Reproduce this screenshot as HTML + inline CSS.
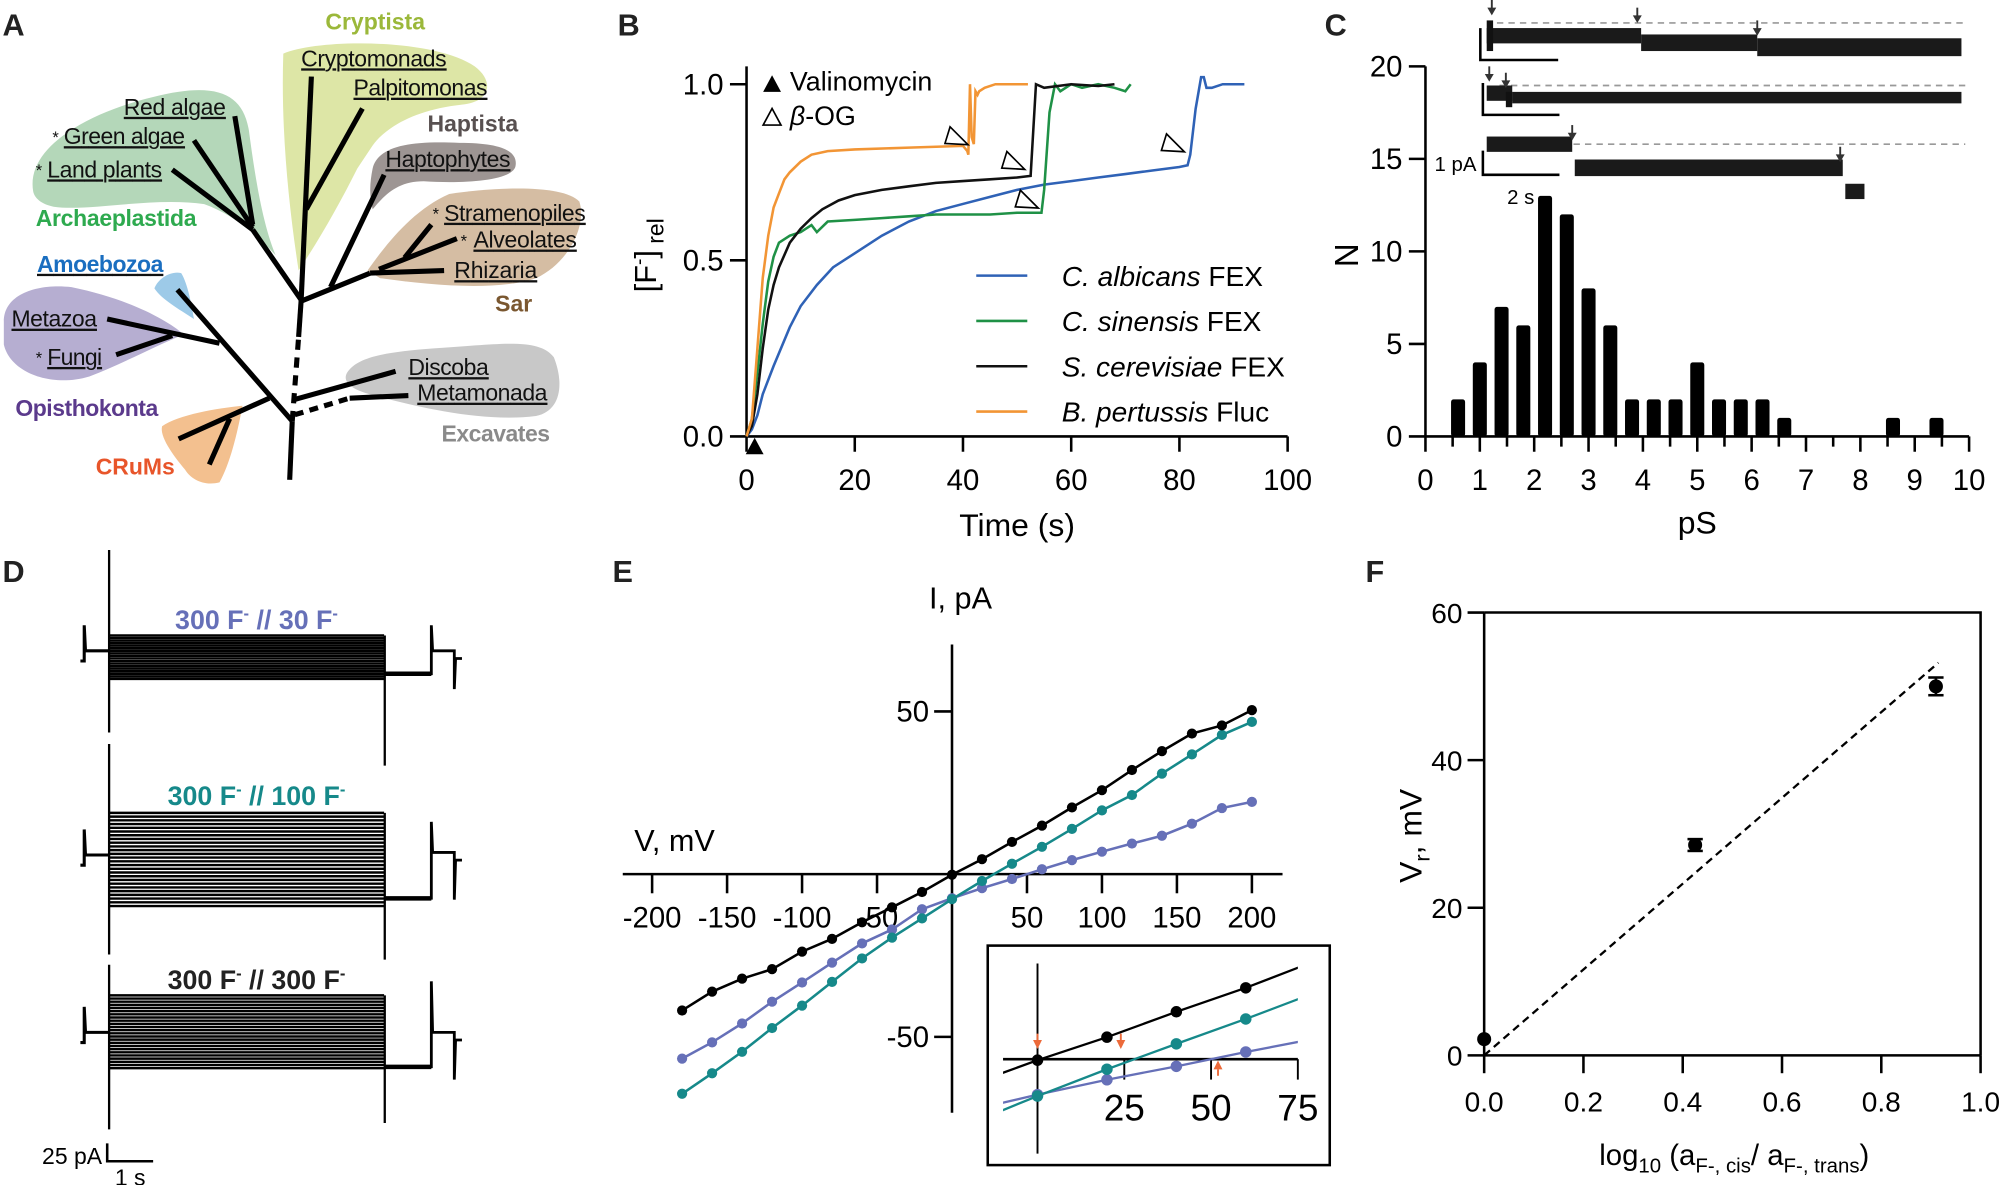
<!DOCTYPE html>
<html><head><meta charset="utf-8"><style>
html,body{margin:0;padding:0;background:#fff;}
svg{display:block;font-family:"Liberation Sans",Arial,sans-serif;}
</style></head><body>
<svg id="fig" width="2001" height="1185" viewBox="0 0 1568 928.6" preserveAspectRatio="none" xmlns="http://www.w3.org/2000/svg">
<defs>
<clipPath id="insetClip"><rect x="786" y="745" width="231" height="165"/></clipPath>
</defs>
<g font-weight="bold" font-size="24" fill="#222">
<text x="2" y="28">A</text>
<text x="484" y="28">B</text>
<text x="1038" y="28">C</text>
<text x="2" y="456">D</text>
<text x="480" y="456">E</text>
<text x="1070" y="456">F</text>
</g>

<g id="panelA">
<path fill="#dde6a6" d="M222,42 C250,30 340,30 372,52 C388,64 384,80 362,82 C325,86 302,100 292,114 L280,132 C266,160 250,188 234,212 C226,160 220,100 222,42 Z"/>
<path fill="#b4d7b9" d="M26,150 C20,115 70,88 120,76 C168,64 190,72 195,102 C200,140 206,176 216,200 C200,182 180,167 160,160 C120,154 70,166 42,162 C32,160 27,155 26,150 Z"/>
<path fill="#9d9593" d="M292,132 C296,115 320,110 360,112 C392,112 406,118 404,130 C402,142 362,144 332,142 C312,142 302,152 292,164 C289,152 290,142 292,132 Z"/>
<path fill="#d5bda3" d="M288,212 C300,195 322,165 352,152 C392,146 442,145 454,158 C460,176 446,206 420,218 C390,228 340,224 298,218 Z"/>
<path fill="#9dcae8" d="M121,226 C124,218 134,212 142,214 C147,222 150,238 152,250 C140,242 127,235 121,226 Z"/>
<path fill="#b6aed1" d="M3,252 C3,230 30,222 56,225 C100,234 130,250 144,262 C120,272 96,285 70,295 C40,304 8,292 3,270 Z"/>
<path fill="#f3c08f" d="M127,334 C140,325 170,320 190,318 C186,340 180,364 172,378 C160,381 150,376 145,368 C135,356 125,342 127,334 Z"/>
<path fill="#c8c8c8" d="M272,292 C280,280 300,276 340,273 C390,270 422,264 434,280 C442,300 440,322 420,326 C380,331 330,320 290,309 C275,305 268,299 272,292 Z"/>
<g stroke="#000" stroke-width="4" fill="none" stroke-linecap="butt">
<line x1="227" y1="376" x2="229" y2="330"/>
<line x1="229" y1="330" x2="139" y2="227"/>
<line x1="84" y1="250" x2="172" y2="269"/>
<line x1="91" y1="278" x2="135" y2="263"/>
<line x1="211" y1="312" x2="140" y2="344"/>
<line x1="180" y1="328" x2="164" y2="364"/>
<line x1="229" y1="330" x2="234" y2="264" stroke-dasharray="8,6"/>
<line x1="234" y1="264" x2="236" y2="235"/>
<line x1="231" y1="313" x2="310" y2="291"/>
<line x1="231" y1="325" x2="274" y2="312" stroke-dasharray="7,5"/>
<line x1="274" y1="312" x2="320" y2="310"/>
<line x1="236" y1="235" x2="198" y2="180"/>
<line x1="135" y1="133" x2="198" y2="180"/>
<line x1="152" y1="110" x2="198" y2="178"/>
<line x1="184" y1="91" x2="198" y2="176"/>
<line x1="236" y1="235" x2="244" y2="60"/>
<line x1="284" y1="85" x2="240" y2="164"/>
<line x1="236" y1="236" x2="290" y2="214"/>
<line x1="259" y1="225" x2="301" y2="137"/>
<line x1="290" y1="214" x2="348" y2="212"/>
<line x1="297" y1="211" x2="358" y2="187"/>
<line x1="317" y1="202" x2="338" y2="176"/>
</g>
<g font-size="18" fill="#111" text-decoration="underline">
<text x="236" y="52" textLength="114">Cryptomonads</text>
<text x="277" y="75" textLength="105">Palpitomonas</text>
<text x="97" y="90" textLength="80">Red algae</text>
<text x="50" y="113" textLength="95">Green algae</text>
<text x="37" y="139" textLength="90">Land plants</text>
<text x="302" y="131" textLength="98">Haptophytes</text>
<text x="348" y="173" textLength="111">Stramenopiles</text>
<text x="371" y="194" textLength="81">Alveolates</text>
<text x="356" y="218" textLength="65">Rhizaria</text>
<text x="9" y="256" textLength="67">Metazoa</text>
<text x="37" y="286" textLength="43">Fungi</text>
<text x="320" y="294" textLength="63">Discoba</text>
<text x="327" y="314" textLength="102">Metamonada</text>
<text x="29" y="213" textLength="99" font-weight="bold" fill="#1a6ec0">Amoebozoa</text>
</g>
<g font-size="13" fill="#111">
<text x="41" y="112">*</text><text x="28" y="138">*</text><text x="339" y="172">*</text><text x="361" y="193">*</text><text x="28" y="285">*</text>
</g>
<g font-size="18" font-weight="bold">
<text x="255" y="23" fill="#9bb83a">Cryptista</text>
<text x="28" y="177" fill="#2eaa4f" textLength="126">Archaeplastida</text>
<text x="335" y="103" fill="#585050">Haptista</text>
<text x="388" y="244" fill="#7a5730">Sar</text>
<text x="12" y="326" fill="#5b3a8c" textLength="112">Opisthokonta</text>
<text x="75" y="372" fill="#e8552a">CRuMs</text>
<text x="346" y="346" fill="#8a8a8a" textLength="85">Excavates</text>
</g>
</g>

<g id="panelB"></g>
<g id="panelC"></g>
<g id="panelD"></g>
<g id="panelE"></g>
<g id="panelF"></g>
</svg>
<script>
const albT=[0,1,2,3,5,8,10,13,16,20,25,30,35,40,45,50,55,60,65,70,75,80,81.5,82,83,84,84.5,85,86,88,92];
const albV=[0,0.02,0.06,0.12,0.2,0.31,0.37,0.43,0.48,0.52,0.57,0.61,0.64,0.66,0.68,0.70,0.715,0.725,0.735,0.745,0.755,0.765,0.77,0.80,0.93,1.02,1.02,0.99,0.99,1.0,1.0];
const sinT=[0,1,2,3,4,5,6,8,10,12,13,15,20,25,30,35,40,45,50,54.5,55,56,57,58,60,62,65,68,70,71];
const sinV=[0,0.05,0.18,0.32,0.44,0.51,0.55,0.57,0.58,0.60,0.58,0.61,0.615,0.62,0.625,0.63,0.63,0.63,0.635,0.635,0.70,0.92,1.0,0.98,1.0,0.99,1.0,0.99,0.98,1.0];
const cerT=[0,1,2,3,4,5,6,8,10,12,14,17,20,25,30,35,40,45,50,52.5,53,53.5,55,60,65,68];
const cerV=[0,0.03,0.12,0.25,0.36,0.43,0.48,0.55,0.59,0.62,0.645,0.67,0.685,0.70,0.71,0.72,0.725,0.73,0.735,0.74,0.87,1.0,0.99,1.0,0.995,1.0];
const pertT=[0,1,2,3,4,5,6,7,8,10,12,15,20,30,40,40.8,41,41.3,41.6,42,42.3,42.7,43,44,46,48,50,52];
const pertV=[0,0.05,0.25,0.45,0.57,0.65,0.69,0.73,0.75,0.78,0.80,0.81,0.815,0.82,0.825,0.81,0.80,1.0,0.85,0.83,0.98,0.97,0.98,0.99,1.0,1.0,1.0,1.0];
const bXTicks=[0,20,40,60,80,100];
const bYTicks=[0,0.5,1.0];
const bYTickLabels=["0.0","0.5","1.0"];
const bogT=[39.5,50,52.5,79.5];
const bogV=[0.85,0.78,0.67,0.83];

const cCenters=[0.6,1.0,1.4,1.8,2.2,2.6,3.0,3.4,3.8,4.2,4.6,5.0,5.4,5.8,6.2,6.6,8.6,9.4];
const cCounts=[2,4,7,6,13,12,8,6,2,2,2,4,2,2,2,1,1,1];
const cXTicks=[0,1,2,3,4,5,6,7,8,9,10];
const cYTicks=[0,5,10,15,20];

const eV=[-180,-160,-140,-120,-100,-80,-60,-40,-20,0,20,40,60,80,100,120,140,160,180,200];
const eBlack=[-41.9,-36.1,-32.1,-29.2,-23.8,-19.9,-14.8,-10.2,-5.5,-0.2,4.6,9.9,14.9,20.5,25.8,32.0,37.8,43.2,45.7,50.4];
const eTeal=[-67.5,-61.2,-54.6,-47.3,-40.4,-33.1,-25.9,-19.5,-13.6,-7.7,-2.1,3.2,8.4,13.9,19.6,24.3,30.9,36.8,42.8,46.8];
const ePurple=[-56.7,-51.7,-45.9,-39.2,-33.3,-27.2,-21.3,-17.0,-10.8,-7.4,-4.3,-1.5,1.5,4.3,6.9,9.4,11.8,15.5,20.3,22.2];
const eXTicks=[-200,-150,-100,-50,50,100,150,200];
const eYTicks=[50,-50];
const eInsetTicks=[25,50,75];
const eReversal=[0,24,52];

const fX=[0,0.425,0.91];
const fY=[2.2,28.5,50];
const fErr=[0,0.8,1.2];
const fFitX=[0,0.915];
const fFitY=[0,53.2];
const fXTicks=[0,0.2,0.4,0.6,0.8,1.0];
const fYTicks=[0,20,40,60];

const NS="http://www.w3.org/2000/svg";
function mk(parent,tag,attrs,text){const e=document.createElementNS(NS,tag);for(const k in attrs)e.setAttribute(k,attrs[k]);if(text!==undefined)e.textContent=text;parent.appendChild(e);return e;}

(function(){
const g=document.getElementById('panelB');
const xB=t=>585+t*4.24, yB=v=>342-v*276;
let ax=mk(g,'line',{x1:585,y1:52,x2:585,y2:342,stroke:'#000','stroke-width':2});

let ax2=mk(g,'line',{x1:585,y1:342,x2:1009,y2:342,stroke:'#000','stroke-width':2});

bXTicks.forEach(t=>{mk(g,'line',{x1:xB(t),y1:342,x2:xB(t),y2:354,stroke:'#000','stroke-width':2});
 const tl=mk(g,'text',{x:xB(t),y:384,'font-size':23,'text-anchor':'middle'},String(t));
 });
bYTicks.forEach((v,i)=>{mk(g,'line',{x1:572,y1:yB(v),x2:585,y2:yB(v),stroke:'#000','stroke-width':2});
 const tl=mk(g,'text',{x:567,y:yB(v)+8,'font-size':23,'text-anchor':'end'},bYTickLabels[i]);
 });
const xl=mk(g,'text',{x:797,y:420,'font-size':25,'text-anchor':'middle'},'Time (s)');

const yl=mk(g,'text',{x:0,y:0,'font-size':24,'text-anchor':'middle',transform:'translate(514,200) rotate(-90)'});

yl.innerHTML='[F<tspan dy="-8" font-size="15">-</tspan><tspan dy="8">]</tspan><tspan dy="6" font-size="18"> rel</tspan>';
const series=[[albT,albV,'#2f62b6','c-albicans'],[sinT,sinV,'#1f9146','c-sinensis'],[cerT,cerV,'#111','s-cerevisiae'],[pertT,pertV,'#f29535','b-pertussis']];
series.forEach(s=>{const pts=s[0].map((t,i)=>xB(t).toFixed(1)+','+yB(s[1][i]).toFixed(1)).join(' ');
 const pl=mk(g,'polyline',{points:pts,fill:'none',stroke:s[2],'stroke-width':2});
 });
bogT.forEach((t,i)=>{const x=xB(t),y=yB(bogV[i]);
 const tr=mk(g,'polygon',{points:`${x-8},${y-8} ${x+6},${y+6} ${x-12},${y+5}`,fill:'#fff',stroke:'#000','stroke-width':1.3});
 });
const vm=mk(g,'polygon',{points:`${xB(1.5)-7},356 ${xB(1.5)+7},356 ${xB(1.5)},343`,fill:'#000'});

mk(g,'polygon',{points:'598,72 612,72 605,59',fill:'#000'});
const t1=mk(g,'text',{x:619,y:71,'font-size':21},'Valinomycin');
mk(g,'polygon',{points:'598,98 612,98 605,85',fill:'#fff',stroke:'#000','stroke-width':1.3});
const t2=mk(g,'text',{x:619,y:98,'font-size':21});t2.innerHTML='<tspan font-style="italic">β</tspan>-OG';

const leg=[['#2f62b6','C. albicans',' FEX'],['#1f9146','C. sinensis',' FEX'],['#111','S. cerevisiae',' FEX'],['#f29535','B. pertussis',' Fluc']];
leg.forEach((l,i)=>{const y=216+i*35.5;
 mk(g,'line',{x1:765,y1:y,x2:805,y2:y,stroke:l[0],'stroke-width':2});
 const tx=mk(g,'text',{x:832,y:y+8,'font-size':22});
 tx.innerHTML='<tspan font-style="italic">'+l[1]+'</tspan>'+l[2];
 });
})();

(function(){
const g=document.getElementById('panelC');
const xC=v=>1117+v*42.6, yC=n=>342-n*14.5;
const a1=mk(g,'line',{x1:1117,y1:52,x2:1117,y2:342,stroke:'#000','stroke-width':2});

const a2=mk(g,'line',{x1:1117,y1:342,x2:1543,y2:342,stroke:'#000','stroke-width':2});

cYTicks.forEach(n=>{mk(g,'line',{x1:1104,y1:yC(n),x2:1117,y2:yC(n),stroke:'#000','stroke-width':2});
 const t=mk(g,'text',{x:1099,y:yC(n)+8,'font-size':23,'text-anchor':'end'},String(n));
 });
cXTicks.forEach(v=>{mk(g,'line',{x1:xC(v),y1:342,x2:xC(v),y2:354,stroke:'#000','stroke-width':2});
 if(v<10)mk(g,'line',{x1:xC(v+0.5),y1:342,x2:xC(v+0.5),y2:350,stroke:'#000','stroke-width':2});
 const t=mk(g,'text',{x:xC(v),y:384,'font-size':23,'text-anchor':'middle'},String(v));
 });
const xl=mk(g,'text',{x:1330,y:418,'font-size':25,'text-anchor':'middle'},'pS');

const yl=mk(g,'text',{x:0,y:0,'font-size':26,'text-anchor':'middle',transform:'translate(1064,200) rotate(-90)'},'N');

cCenters.forEach((c,i)=>{const w=11;const b=mk(g,'rect',{x:xC(c)-w/2,y:yC(cCounts[i]),width:w,height:yC(0)-yC(cCounts[i]),fill:'#000',rx:2});
 });
const tr=mk(g,'g',{});
const dash={stroke:'#999','stroke-width':1.3,'stroke-dasharray':'5,4'};
mk(tr,'line',Object.assign({x1:1173,y1:18,x2:1540,y2:18},dash));
mk(tr,'line',Object.assign({x1:1175,y1:67,x2:1540,y2:67},dash));
mk(tr,'line',Object.assign({x1:1170,y1:113,x2:1540,y2:113},dash));
[[1165,22,1286,34],[1286,27,1377,40],[1377,30,1537,44],
 [1165,67,1185,79],[1185,72,1537,81],
 [1165,107,1232,119],[1234,125,1444,138],[1446,144,1461,156]].forEach(r=>{
 mk(tr,'rect',{x:r[0],y:r[1],width:r[2]-r[0],height:r[3]-r[1],fill:'#1a1a1a'});});
[[1165,16,1170,40],[1180,72,1185,84]].forEach(r=>mk(tr,'rect',{x:r[0],y:r[1],width:r[2]-r[0],height:r[3]-r[1],fill:'#111'}));
[[1169,0],[1283,6],[1377,16],[1167,52],[1180,57],[1232,98],[1442,115]].forEach(a=>{
 mk(tr,'line',{x1:a[0],y1:a[1],x2:a[0],y2:a[1]+9,stroke:'#333','stroke-width':1.5});
 mk(tr,'polygon',{points:`${a[0]-3.5},${a[1]+6} ${a[0]+3.5},${a[1]+6} ${a[0]},${a[1]+12}`,fill:'#333'});});
const sb={stroke:'#000','stroke-width':2,fill:'none'};
mk(tr,'polyline',Object.assign({points:'1160,22 1160,47 1221,47'},sb));
mk(tr,'polyline',Object.assign({points:'1162,65 1162,90 1222,90'},sb));
mk(tr,'polyline',Object.assign({points:'1162,118 1162,137 1222,137'},sb));
mk(tr,'text',{x:1157,y:134,'font-size':16,'text-anchor':'end'},'1 pA');
mk(tr,'text',{x:1181,y:160,'font-size':16},'2 s');
})();

(function(){
const g=document.getElementById('panelD');
const groups=[
 {pre:510,sTop:431,sBot:574,bTop:498,bBot:532,eBot:600,after:529,aTop:490,post:510,pBot:540,n:18,label:'300 F',label2:' // 30 F',color:'#6670b8',ly:485},
 {pre:670,sTop:583,sBot:748,bTop:637,bBot:710,eBot:752,after:705,aTop:644,post:668,pBot:705,n:26,label:'300 F',label2:' // 100 F',color:'#16898a',ly:623},
 {pre:809,sTop:756,sBot:885,bTop:780,bBot:837,eBot:880,after:837,aTop:769,post:809,pBot:846,n:24,label:'300 F',label2:' // 300 F',color:'#222',ly:767}];
groups.forEach((G,gi)=>{
 const gg=mk(g,'g',{stroke:'#000',fill:'none','stroke-width':1.9});
 
 mk(gg,'polyline',{points:`63,${G.pre+8} 66,${G.pre+8} 66,${G.pre-20} 67,${G.pre} 85.5,${G.pre}`,'stroke-width':2.4});
 mk(gg,'line',{x1:85.5,y1:G.sTop,x2:85.5,y2:G.sBot,'stroke-width':1.8});
 for(let i=0;i<G.n;i++){const y=G.bTop+(G.bBot-G.bTop)*i/(G.n-1);
  mk(gg,'line',{x1:86,y1:y,x2:301,y2:y});}
 mk(gg,'line',{x1:301.5,y1:G.bTop,x2:301.5,y2:G.eBot,'stroke-width':1.8});
 mk(gg,'line',{x1:302,y1:G.after-1,x2:338,y2:G.after-1,'stroke-width':3.5});
 mk(gg,'polyline',{points:`338,${G.after} 338,${G.aTop} 339,${G.post} 356,${G.post} 356,${G.pBot} 357,${G.post+6} 362,${G.post+6}`,'stroke-width':2.2});
 const t=mk(g,'text',{x:201,y:G.ly+8,'font-size':21,'font-weight':'bold','text-anchor':'middle',fill:G.color});
 t.innerHTML=G.label+'<tspan dy="-8" font-size="13">-</tspan><tspan dy="8">'+G.label2+'</tspan><tspan dy="-8" font-size="13">-</tspan>';
 
});
const sb=mk(g,'polyline',{points:'84,896 84,910 120,910',stroke:'#000','stroke-width':2,fill:'none'});

mk(g,'text',{x:80,y:912,'font-size':18,'text-anchor':'end'},'25 pA');
mk(g,'text',{x:90,y:929,'font-size':18},'1 s');
})();

(function(){
const g=document.getElementById('panelE');
const xE=v=>746+v*1.175, yE=i=>685-i*2.55;
const a1=mk(g,'line',{x1:488,y1:685,x2:1005,y2:685,stroke:'#000','stroke-width':2});

const a2=mk(g,'line',{x1:746,y1:505,x2:746,y2:872,stroke:'#000','stroke-width':2});

eXTicks.forEach(v=>{mk(g,'line',{x1:xE(v),y1:685,x2:xE(v),y2:700,stroke:'#000','stroke-width':2});
 const t=mk(g,'text',{x:xE(v),y:727,'font-size':23,'text-anchor':'middle'},String(v));
 });
eYTicks.forEach(v=>{mk(g,'line',{x1:732,y1:yE(v),x2:746,y2:yE(v),stroke:'#000','stroke-width':2});
 const t=mk(g,'text',{x:728,y:yE(v)+8,'font-size':23,'text-anchor':'end'},String(v));
 });
const xl=mk(g,'text',{x:497,y:667,'font-size':24},'V, mV');
const yl=mk(g,'text',{x:728,y:477,'font-size':24},'I, pA');
const ser=[[ePurple,'#6670b8','purple-30'],[eTeal,'#16898a','teal-100'],[eBlack,'#000','black-300']];
ser.forEach(s=>{const pts=eV.map((v,i)=>xE(v).toFixed(1)+','+yE(s[0][i]).toFixed(1)).join(' ');
 const pl=mk(g,'polyline',{points:pts,fill:'none',stroke:s[1],'stroke-width':2});
 
 eV.forEach((v,i)=>{const c=mk(g,'circle',{cx:xE(v),cy:yE(s[0][i]),r:4,fill:s[1]});
  });});
const xi=v=>813+v*2.72, yi=i=>830-i*3.75;
const box=mk(g,'rect',{x:774,y:741,width:268,height:172,fill:'#fff',stroke:'#000','stroke-width':2});

mk(g,'line',{x1:786,y1:830,x2:1017,y2:830,stroke:'#000','stroke-width':2});
mk(g,'line',{x1:813,y1:755,x2:813,y2:904,stroke:'#000','stroke-width':1.5});
eInsetTicks.forEach(v=>{mk(g,'line',{x1:xi(v),y1:830,x2:xi(v),y2:846,stroke:'#000','stroke-width':1.5});
 const t=mk(g,'text',{x:xi(v),y:878,'font-size':29,'text-anchor':'middle'},String(v));
 });
const ig=mk(g,'g',{'clip-path':'url(#insetClip)'});
ser.forEach(s=>{const idx=eV.map((v,i)=>i).filter(i=>eV[i]>=-20&&eV[i]<=80);
 const pts=idx.map(i=>xi(eV[i]).toFixed(1)+','+yi(s[0][i]).toFixed(1)).join(' ');
 const pl=mk(ig,'polyline',{points:pts,fill:'none',stroke:s[1],'stroke-width':1.8});
 
 idx.forEach(i=>{if(eV[i]>=0&&eV[i]<=60){const c=mk(ig,'circle',{cx:xi(eV[i]),cy:yi(s[0][i]),r:4.5,fill:s[1]});
  }});});
eReversal.forEach((v,k)=>{const x=xi(v);const up=k===2;
 const p=up?`${x-3.5},${838} ${x+3.5},${838} ${x},${831}`:`${x-3.5},${815} ${x+3.5},${815} ${x},${822}`;
 mk(g,'polygon',{points:p,fill:'#ec6a3a'});
 mk(g,'line',{x1:x,y1:up?838:810,x2:x,y2:up?843:815,stroke:'#ec6a3a','stroke-width':1.5});});
})();

(function(){
const g=document.getElementById('panelF');
const xF=v=>1163+v*389, yF=v=>827-v*5.783;
const fr=mk(g,'polyline',{points:'1163,480 1552,480 1552,827',fill:'none',stroke:'#000','stroke-width':2});

const a1=mk(g,'line',{x1:1163,y1:480,x2:1163,y2:827,stroke:'#000','stroke-width':2});

const a2=mk(g,'line',{x1:1163,y1:827,x2:1552,y2:827,stroke:'#000','stroke-width':2});

fYTicks.forEach(v=>{mk(g,'line',{x1:1150,y1:yF(v),x2:1163,y2:yF(v),stroke:'#000','stroke-width':2});
 const t=mk(g,'text',{x:1146,y:yF(v)+8,'font-size':22,'text-anchor':'end'},String(v));
 });
fXTicks.forEach(v=>{mk(g,'line',{x1:xF(v),y1:827,x2:xF(v),y2:841,stroke:'#000','stroke-width':2});
 const t=mk(g,'text',{x:xF(v),y:871,'font-size':22,'text-anchor':'middle'},v.toFixed(1));
 });
const fit=mk(g,'line',{x1:xF(fFitX[0]),y1:yF(fFitY[0]),x2:xF(fFitX[1]),y2:yF(fFitY[1]),stroke:'#000','stroke-width':1.8,'stroke-dasharray':'6,4'});

fX.forEach((x,i)=>{
 if(fErr[i]>0){mk(g,'line',{x1:xF(x),y1:yF(fY[i]+fErr[i]),x2:xF(x),y2:yF(fY[i]-fErr[i]),stroke:'#000','stroke-width':2});
  [fY[i]+fErr[i],fY[i]-fErr[i]].forEach(y=>mk(g,'line',{x1:xF(x)-6,y1:yF(y),x2:xF(x)+6,y2:yF(y),stroke:'#000','stroke-width':2}));}
 const c=mk(g,'circle',{cx:xF(x),cy:yF(fY[i]),r:5.5,fill:'#000'});
 });
const yl=mk(g,'text',{x:0,y:0,'font-size':25,'text-anchor':'middle',transform:'translate(1114,655) rotate(-90)'});
yl.innerHTML='V<tspan dy="6" font-size="17">r</tspan><tspan dy="-6">, mV</tspan>';

const xl=mk(g,'text',{x:1359,y:913,'font-size':23,'text-anchor':'middle'});
xl.innerHTML='log<tspan dy="6" font-size="16">10</tspan><tspan dy="-6"> (a</tspan><tspan dy="6" font-size="16">F-, cis</tspan><tspan dy="-6">/ a</tspan><tspan dy="6" font-size="16">F-, trans</tspan><tspan dy="-6">)</tspan>';

})();
</script>
</body></html>
